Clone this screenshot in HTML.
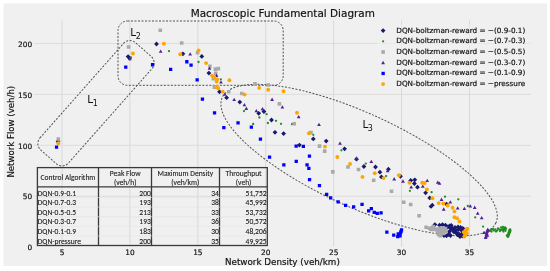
<!DOCTYPE html>
<html><head><meta charset="utf-8"><style>html,body{margin:0;padding:0;background:#fff;width:550px;height:271px;overflow:hidden}svg{display:block}</style></head>
<body><svg width="550" height="271" viewBox="0 0 550 271"><rect x="0" y="0" width="550" height="271" fill="#ffffff"/>
<rect x="3.5" y="3.5" width="543.5" height="262.5" fill="#f0f0f0"/>
<path d="M62.00 20.5V246.5M129.91 20.5V246.5M197.83 20.5V246.5M265.74 20.5V246.5M333.65 20.5V246.5M401.57 20.5V246.5M469.49 20.5V246.5" stroke="#d8d8d8" stroke-width="1" fill="none"/>
<path d="M34 196.25H531M34 145.30H531M34 94.35H531M34 43.40H531" stroke="#dcdcdc" stroke-width="1" fill="none"/>
<text x="32.2" y="250.40" text-anchor="end" font-family="DejaVu Sans, Liberation Sans, sans-serif" font-size="7.4" fill="#111" stroke="#111" stroke-width="0.18">0</text>
<text x="32.2" y="199.45" text-anchor="end" font-family="DejaVu Sans, Liberation Sans, sans-serif" font-size="7.4" fill="#111" stroke="#111" stroke-width="0.18">50</text>
<text x="32.2" y="148.50" text-anchor="end" font-family="DejaVu Sans, Liberation Sans, sans-serif" font-size="7.4" fill="#111" stroke="#111" stroke-width="0.18">100</text>
<text x="32.2" y="97.55" text-anchor="end" font-family="DejaVu Sans, Liberation Sans, sans-serif" font-size="7.4" fill="#111" stroke="#111" stroke-width="0.18">150</text>
<text x="32.2" y="46.60" text-anchor="end" font-family="DejaVu Sans, Liberation Sans, sans-serif" font-size="7.4" fill="#111" stroke="#111" stroke-width="0.18">200</text>
<text x="62.00" y="254.9" text-anchor="middle" font-family="DejaVu Sans, Liberation Sans, sans-serif" font-size="7.4" fill="#111" stroke="#111" stroke-width="0.18">5</text>
<text x="129.91" y="254.9" text-anchor="middle" font-family="DejaVu Sans, Liberation Sans, sans-serif" font-size="7.4" fill="#111" stroke="#111" stroke-width="0.18">10</text>
<text x="197.83" y="254.9" text-anchor="middle" font-family="DejaVu Sans, Liberation Sans, sans-serif" font-size="7.4" fill="#111" stroke="#111" stroke-width="0.18">15</text>
<text x="265.74" y="254.9" text-anchor="middle" font-family="DejaVu Sans, Liberation Sans, sans-serif" font-size="7.4" fill="#111" stroke="#111" stroke-width="0.18">20</text>
<text x="333.65" y="254.9" text-anchor="middle" font-family="DejaVu Sans, Liberation Sans, sans-serif" font-size="7.4" fill="#111" stroke="#111" stroke-width="0.18">25</text>
<text x="401.57" y="254.9" text-anchor="middle" font-family="DejaVu Sans, Liberation Sans, sans-serif" font-size="7.4" fill="#111" stroke="#111" stroke-width="0.18">30</text>
<text x="469.49" y="254.9" text-anchor="middle" font-family="DejaVu Sans, Liberation Sans, sans-serif" font-size="7.4" fill="#111" stroke="#111" stroke-width="0.18">35</text>
<text x="282.4" y="265.1" text-anchor="middle" font-family="DejaVu Sans, Liberation Sans, sans-serif" font-size="8.76" fill="#111" stroke="#111" stroke-width="0.18">Network Density (veh/km)</text>
<text transform="translate(14 131.7) rotate(-90)" text-anchor="middle" font-family="DejaVu Sans, Liberation Sans, sans-serif" font-size="8.6" fill="#111" stroke="#111" stroke-width="0.18">Network Flow (veh/h)</text>
<text x="282.8" y="16.8" text-anchor="middle" font-family="DejaVu Sans, Liberation Sans, sans-serif" font-size="10.45" fill="#111" stroke="#111" stroke-width="0.18">Macroscopic Fundamental Diagram</text>
<rect x="118" y="21" width="165.2" height="64.3" rx="9.5" ry="9.5" fill="none" stroke="#525252" stroke-width="1.0" stroke-dasharray="2 1.5"/>
<rect x="-71.6" y="-19" width="143.2" height="38" rx="8.5" ry="8.5" transform="translate(96.0 103.25) rotate(-48.5)" fill="none" stroke="#525252" stroke-width="1.0" stroke-dasharray="2 1.5"/>
<ellipse cx="0" cy="0" rx="150.5" ry="46.8" transform="translate(359.1 160.1) rotate(24.62)" fill="none" stroke="#525252" stroke-width="1.0" stroke-dasharray="2 1.5"/>
<text x="87.3" y="102.6" font-family="DejaVu Sans, Liberation Sans, sans-serif" fill="#111" font-size="10.5">L<tspan font-size="8" dx="-0.5" dy="3.0">1</tspan></text>
<text x="130.3" y="35.9" font-family="DejaVu Sans, Liberation Sans, sans-serif" fill="#111" font-size="10.5">L<tspan font-size="8" dx="-0.5" dy="3.0">2</tspan></text>
<text x="362.5" y="128.1" font-family="DejaVu Sans, Liberation Sans, sans-serif" fill="#111" font-size="10.5">L<tspan font-size="8" dx="-0.5" dy="3.0">3</tspan></text>
<g stroke="#3a3a3a" stroke-width="1.3" fill="none"><rect x="37.4" y="167.6" width="229.9" height="77.9"/><path d="M37.4 186.8H267.3M98.5 167.6V245.5M151.5 167.6V245.5M219.5 167.6V245.5"/></g>
<path d="M38 197.5H267M38 207.1H267M38 216.7H267M38 226.3H267M38 235.9H267" stroke="#e2e2e2" stroke-width="0.6" fill="none"/>
<text x="68" y="180.4" text-anchor="middle" font-family="Carlito, Liberation Sans, sans-serif" fill="#1a1a1a" stroke="#1a1a1a" stroke-width="0.1" font-size="7.55" textLength="54.82" lengthAdjust="spacingAndGlyphs">Control Algorithm</text>
<text x="125.2" y="175.8" text-anchor="middle" font-family="Carlito, Liberation Sans, sans-serif" fill="#1a1a1a" stroke="#1a1a1a" stroke-width="0.1" font-size="7.55" textLength="30.80" lengthAdjust="spacingAndGlyphs">Peak Flow</text>
<text x="125.2" y="185.4" text-anchor="middle" font-family="Carlito, Liberation Sans, sans-serif" fill="#1a1a1a" stroke="#1a1a1a" stroke-width="0.1" font-size="7.55" textLength="22.51" lengthAdjust="spacingAndGlyphs">(veh/h)</text>
<text x="185.4" y="175.8" text-anchor="middle" font-family="Carlito, Liberation Sans, sans-serif" fill="#1a1a1a" stroke="#1a1a1a" stroke-width="0.1" font-size="7.55" textLength="55.72" lengthAdjust="spacingAndGlyphs">Maximum Density</text>
<text x="185.3" y="185.4" text-anchor="middle" font-family="Carlito, Liberation Sans, sans-serif" fill="#1a1a1a" stroke="#1a1a1a" stroke-width="0.1" font-size="7.55" textLength="28.01" lengthAdjust="spacingAndGlyphs">(veh/km)</text>
<text x="243.6" y="175.8" text-anchor="middle" font-family="Carlito, Liberation Sans, sans-serif" fill="#1a1a1a" stroke="#1a1a1a" stroke-width="0.1" font-size="7.55" textLength="36.07" lengthAdjust="spacingAndGlyphs">Throughput</text>
<text x="243.6" y="185.4" text-anchor="middle" font-family="Carlito, Liberation Sans, sans-serif" fill="#1a1a1a" stroke="#1a1a1a" stroke-width="0.1" font-size="7.55" textLength="15.63" lengthAdjust="spacingAndGlyphs">(veh)</text>
<text x="37.7" y="195.6" font-family="Carlito, Liberation Sans, sans-serif" fill="#1a1a1a" stroke="#1a1a1a" stroke-width="0.1" font-size="7.55" textLength="38.32" lengthAdjust="spacingAndGlyphs">DQN-0.9-0.1</text>
<text x="150.8" y="195.6" text-anchor="end" font-family="Carlito, Liberation Sans, sans-serif" fill="#1a1a1a" stroke="#1a1a1a" stroke-width="0.1" font-size="7.55" textLength="11.48" lengthAdjust="spacingAndGlyphs">200</text>
<text x="218.8" y="195.6" text-anchor="end" font-family="Carlito, Liberation Sans, sans-serif" fill="#1a1a1a" stroke="#1a1a1a" stroke-width="0.1" font-size="7.55" textLength="7.65" lengthAdjust="spacingAndGlyphs">34</text>
<text x="266.6" y="195.6" text-anchor="end" font-family="Carlito, Liberation Sans, sans-serif" fill="#1a1a1a" stroke="#1a1a1a" stroke-width="0.1" font-size="7.55" textLength="21.01" lengthAdjust="spacingAndGlyphs">51,752</text>
<text x="37.7" y="205.2" font-family="Carlito, Liberation Sans, sans-serif" fill="#1a1a1a" stroke="#1a1a1a" stroke-width="0.1" font-size="7.55" textLength="38.32" lengthAdjust="spacingAndGlyphs">DQN-0.7-0.3</text>
<text x="150.8" y="205.2" text-anchor="end" font-family="Carlito, Liberation Sans, sans-serif" fill="#1a1a1a" stroke="#1a1a1a" stroke-width="0.1" font-size="7.55" textLength="11.48" lengthAdjust="spacingAndGlyphs">193</text>
<text x="218.8" y="205.2" text-anchor="end" font-family="Carlito, Liberation Sans, sans-serif" fill="#1a1a1a" stroke="#1a1a1a" stroke-width="0.1" font-size="7.55" textLength="7.65" lengthAdjust="spacingAndGlyphs">38</text>
<text x="266.6" y="205.2" text-anchor="end" font-family="Carlito, Liberation Sans, sans-serif" fill="#1a1a1a" stroke="#1a1a1a" stroke-width="0.1" font-size="7.55" textLength="21.01" lengthAdjust="spacingAndGlyphs">45,992</text>
<text x="37.7" y="214.8" font-family="Carlito, Liberation Sans, sans-serif" fill="#1a1a1a" stroke="#1a1a1a" stroke-width="0.1" font-size="7.55" textLength="38.32" lengthAdjust="spacingAndGlyphs">DQN-0.5-0.5</text>
<text x="150.8" y="214.8" text-anchor="end" font-family="Carlito, Liberation Sans, sans-serif" fill="#1a1a1a" stroke="#1a1a1a" stroke-width="0.1" font-size="7.55" textLength="11.48" lengthAdjust="spacingAndGlyphs">213</text>
<text x="218.8" y="214.8" text-anchor="end" font-family="Carlito, Liberation Sans, sans-serif" fill="#1a1a1a" stroke="#1a1a1a" stroke-width="0.1" font-size="7.55" textLength="7.65" lengthAdjust="spacingAndGlyphs">33</text>
<text x="266.6" y="214.8" text-anchor="end" font-family="Carlito, Liberation Sans, sans-serif" fill="#1a1a1a" stroke="#1a1a1a" stroke-width="0.1" font-size="7.55" textLength="21.01" lengthAdjust="spacingAndGlyphs">53,732</text>
<text x="37.7" y="224.4" font-family="Carlito, Liberation Sans, sans-serif" fill="#1a1a1a" stroke="#1a1a1a" stroke-width="0.1" font-size="7.55" textLength="38.32" lengthAdjust="spacingAndGlyphs">DQN-0.3-0.7</text>
<text x="150.8" y="224.4" text-anchor="end" font-family="Carlito, Liberation Sans, sans-serif" fill="#1a1a1a" stroke="#1a1a1a" stroke-width="0.1" font-size="7.55" textLength="11.48" lengthAdjust="spacingAndGlyphs">193</text>
<text x="218.8" y="224.4" text-anchor="end" font-family="Carlito, Liberation Sans, sans-serif" fill="#1a1a1a" stroke="#1a1a1a" stroke-width="0.1" font-size="7.55" textLength="7.65" lengthAdjust="spacingAndGlyphs">36</text>
<text x="266.6" y="224.4" text-anchor="end" font-family="Carlito, Liberation Sans, sans-serif" fill="#1a1a1a" stroke="#1a1a1a" stroke-width="0.1" font-size="7.55" textLength="21.01" lengthAdjust="spacingAndGlyphs">50,572</text>
<text x="37.7" y="234.1" font-family="Carlito, Liberation Sans, sans-serif" fill="#1a1a1a" stroke="#1a1a1a" stroke-width="0.1" font-size="7.55" textLength="38.32" lengthAdjust="spacingAndGlyphs">DQN-0.1-0.9</text>
<text x="150.8" y="234.1" text-anchor="end" font-family="Carlito, Liberation Sans, sans-serif" fill="#1a1a1a" stroke="#1a1a1a" stroke-width="0.1" font-size="7.55" textLength="11.48" lengthAdjust="spacingAndGlyphs">183</text>
<text x="218.8" y="234.1" text-anchor="end" font-family="Carlito, Liberation Sans, sans-serif" fill="#1a1a1a" stroke="#1a1a1a" stroke-width="0.1" font-size="7.55" textLength="7.65" lengthAdjust="spacingAndGlyphs">30</text>
<text x="266.6" y="234.1" text-anchor="end" font-family="Carlito, Liberation Sans, sans-serif" fill="#1a1a1a" stroke="#1a1a1a" stroke-width="0.1" font-size="7.55" textLength="21.01" lengthAdjust="spacingAndGlyphs">48,206</text>
<text x="37.7" y="243.8" font-family="Carlito, Liberation Sans, sans-serif" fill="#1a1a1a" stroke="#1a1a1a" stroke-width="0.1" font-size="7.55" textLength="43.31" lengthAdjust="spacingAndGlyphs">DQN-pressure</text>
<text x="150.8" y="243.8" text-anchor="end" font-family="Carlito, Liberation Sans, sans-serif" fill="#1a1a1a" stroke="#1a1a1a" stroke-width="0.1" font-size="7.55" textLength="11.48" lengthAdjust="spacingAndGlyphs">200</text>
<text x="218.8" y="243.8" text-anchor="end" font-family="Carlito, Liberation Sans, sans-serif" fill="#1a1a1a" stroke="#1a1a1a" stroke-width="0.1" font-size="7.55" textLength="7.65" lengthAdjust="spacingAndGlyphs">35</text>
<text x="266.6" y="243.8" text-anchor="end" font-family="Carlito, Liberation Sans, sans-serif" fill="#1a1a1a" stroke="#1a1a1a" stroke-width="0.1" font-size="7.55" textLength="21.01" lengthAdjust="spacingAndGlyphs">49,925</text>
<path fill="#191970" d="M58.0 139.0L60.4 141.4L58.0 143.8L55.6 141.4ZM128.1 54.2L130.5 56.6L128.1 59.0L125.7 56.6ZM129.4 55.7L131.8 58.1L129.4 60.5L127.0 58.1ZM156.5 41.6L158.9 44.0L156.5 46.4L154.1 44.0ZM182.9 51.4L185.3 53.8L182.9 56.2L180.5 53.8ZM201.8 54.0L204.2 56.4L201.8 58.8L199.4 56.4ZM208.9 70.7L211.3 73.1L208.9 75.5L206.5 73.1ZM219.5 89.4L221.9 91.8L219.5 94.2L217.1 91.8ZM226.6 95.3L229.0 97.7L226.6 100.1L224.2 97.7ZM239.8 99.7L242.2 102.1L239.8 104.5L237.4 102.1ZM258.7 110.9L261.1 113.3L258.7 115.7L256.3 113.3ZM263.9 109.1L266.3 111.5L263.9 113.9L261.5 111.5ZM271.5 117.6L273.9 120.0L271.5 122.4L269.1 120.0ZM275.0 129.9L277.4 132.3L275.0 134.7L272.6 132.3ZM283.6 131.2L286.0 133.6L283.6 136.0L281.2 133.6ZM299.4 142.7L301.8 145.1L299.4 147.5L297.0 145.1ZM313.3 136.5L315.7 138.9L313.3 141.3L310.9 138.9ZM326.2 138.7L328.6 141.1L326.2 143.5L323.8 141.1ZM344.6 146.4L347.0 148.8L344.6 151.2L342.2 148.8ZM356.5 156.8L358.9 159.2L356.5 161.6L354.1 159.2ZM363.9 164.1L366.3 166.5L363.9 168.9L361.5 166.5ZM375.5 164.6L377.9 167.0L375.5 169.4L373.1 167.0ZM379.9 169.8L382.3 172.2L379.9 174.6L377.5 172.2ZM381.4 174.5L383.8 176.9L381.4 179.3L379.0 176.9ZM388.4 166.8L390.8 169.2L388.4 171.6L386.0 169.2ZM400.5 173.9L402.9 176.3L400.5 178.7L398.1 176.3ZM410.7 178.1L413.1 180.5L410.7 182.9L408.3 180.5ZM414.8 177.4L417.2 179.8L414.8 182.2L412.4 179.8ZM414.4 181.1L416.8 183.5L414.4 185.9L412.0 183.5ZM417.5 184.8L419.9 187.2L417.5 189.6L415.1 187.2ZM425.6 190.4L428.0 192.8L425.6 195.2L423.2 192.8ZM429.7 195.5L432.1 197.9L429.7 200.3L427.3 197.9ZM446.5 201.7L448.9 204.1L446.5 206.5L444.1 204.1ZM431.0 204.0L433.4 206.4L431.0 208.8L428.6 206.4ZM432.3 202.8L434.7 205.2L432.3 207.6L429.9 205.2ZM434.9 222.2L437.3 224.6L434.9 227.0L432.5 224.6ZM439.5 222.8L441.9 225.2L439.5 227.6L437.1 225.2ZM442.5 222.2L444.9 224.6L442.5 227.0L440.1 224.6ZM445.5 222.8L447.9 225.2L445.5 227.6L443.1 225.2ZM444.0 233.1L446.4 235.5L444.0 237.9L441.6 235.5ZM446.5 233.4L448.9 235.8L446.5 238.2L444.1 235.8ZM449.5 223.6L451.9 226.0L449.5 228.4L447.1 226.0ZM451.2 222.9L453.6 225.3L451.2 227.7L448.8 225.3ZM450.8 226.1L453.2 228.5L450.8 230.9L448.4 228.5ZM449.5 229.1L451.9 231.5L449.5 233.9L447.1 231.5ZM448.5 232.1L450.9 234.5L448.5 236.9L446.1 234.5ZM450.5 233.1L452.9 235.5L450.5 237.9L448.1 235.5ZM453.5 228.1L455.9 230.5L453.5 232.9L451.1 230.5ZM456.0 228.1L458.4 230.5L456.0 232.9L453.6 230.5ZM458.5 227.1L460.9 229.5L458.5 231.9L456.1 229.5ZM461.0 227.1L463.4 229.5L461.0 231.9L458.6 229.5ZM462.5 229.1L464.9 231.5L462.5 233.9L460.1 231.5ZM459.0 231.6L461.4 234.0L459.0 236.4L456.6 234.0ZM461.5 232.1L463.9 234.5L461.5 236.9L459.1 234.5ZM460.0 234.1L462.4 236.5L460.0 238.9L457.6 236.5ZM456.0 230.1L458.4 232.5L456.0 234.9L453.6 232.5ZM454.0 229.6L456.4 232.0L454.0 234.4L451.6 232.0ZM455.0 225.1L457.4 227.5L455.0 229.9L452.6 227.5ZM458.0 224.6L460.4 227.0L458.0 229.4L455.6 227.0ZM460.5 225.1L462.9 227.5L460.5 229.9L458.1 227.5ZM462.8 225.9L465.2 228.3L462.8 230.7L460.4 228.3ZM457.5 232.4L459.9 234.8L457.5 237.2L455.1 234.8ZM462.3 233.6L464.7 236.0L462.3 238.4L459.9 236.0ZM447.5 224.6L449.9 227.0L447.5 229.4L445.1 227.0ZM452.2 225.6L454.6 228.0L452.2 230.4L449.8 228.0Z"/>
<g fill="#228b22"><circle cx="59.1" cy="141.2" r="1.15"/><circle cx="131.0" cy="57.5" r="1.15"/><circle cx="169.0" cy="51.1" r="1.15"/><circle cx="198.5" cy="62.0" r="1.15"/><circle cx="220.8" cy="79.3" r="1.15"/><circle cx="244.0" cy="111.1" r="1.15"/><circle cx="259.4" cy="117.5" r="1.15"/><circle cx="266.6" cy="114.2" r="1.15"/><circle cx="276.0" cy="120.8" r="1.15"/><circle cx="267.9" cy="123.0" r="1.15"/><circle cx="281.0" cy="123.8" r="1.15"/><circle cx="253.2" cy="124.0" r="1.15"/><circle cx="292.0" cy="124.2" r="1.15"/><circle cx="313.3" cy="134.8" r="1.15"/><circle cx="341.4" cy="150.3" r="1.15"/><circle cx="365.8" cy="163.6" r="1.15"/><circle cx="386.1" cy="176.1" r="1.15"/><circle cx="409.9" cy="190.8" r="1.15"/><circle cx="431.6" cy="192.2" r="1.15"/><circle cx="445.0" cy="196.7" r="1.15"/><circle cx="458.3" cy="199.3" r="1.15"/><circle cx="467.8" cy="206.0" r="1.15"/><circle cx="475.2" cy="217.3" r="1.15"/><circle cx="483.1" cy="226.6" r="1.15"/><circle cx="490.5" cy="230.5" r="1.15"/><circle cx="493.2" cy="228.8" r="1.15"/><circle cx="495.4" cy="229.4" r="1.15"/><circle cx="497.1" cy="230.5" r="1.15"/><circle cx="499.3" cy="229.4" r="1.15"/><circle cx="501.0" cy="230.0" r="1.15"/><circle cx="502.6" cy="228.8" r="1.15"/><circle cx="504.3" cy="228.3" r="1.15"/><circle cx="503.2" cy="230.5" r="1.15"/><circle cx="505.4" cy="229.4" r="1.15"/><circle cx="509.5" cy="230.0" r="1.15"/><circle cx="509.0" cy="231.5" r="1.15"/><circle cx="508.5" cy="233.0" r="1.15"/><circle cx="508.0" cy="234.5" r="1.15"/><circle cx="507.5" cy="236.0" r="1.15"/><circle cx="491.5" cy="231.5" r="1.15"/><circle cx="494.0" cy="230.5" r="1.15"/><circle cx="496.0" cy="231.5" r="1.15"/><circle cx="498.0" cy="228.5" r="1.15"/><circle cx="500.0" cy="231.0" r="1.15"/><circle cx="502.0" cy="229.8" r="1.15"/><circle cx="504.0" cy="229.5" r="1.15"/><circle cx="506.0" cy="228.5" r="1.15"/><circle cx="492.0" cy="229.5" r="1.15"/><circle cx="505.5" cy="230.8" r="1.15"/><circle cx="503.5" cy="231.5" r="1.15"/><circle cx="510.0" cy="231.0" r="1.15"/><circle cx="509.3" cy="233.0" r="1.15"/><circle cx="508.8" cy="234.8" r="1.15"/><circle cx="507.8" cy="236.8" r="1.15"/><circle cx="510.2" cy="229.3" r="1.15"/><circle cx="510.6" cy="230.8" r="1.15"/><circle cx="509.9" cy="232.6" r="1.15"/><circle cx="509.1" cy="234.6" r="1.15"/><circle cx="508.4" cy="236.4" r="1.15"/><circle cx="506.9" cy="235.5" r="1.15"/><circle cx="501.0" cy="227.5" r="1.15"/><circle cx="503.0" cy="227.0" r="1.15"/><circle cx="505.0" cy="227.5" r="1.15"/></g>
<path fill="#a9a9a9" d="M56.5 137.2h3.6v3.6h-3.6ZM126.8 45.2h3.6v3.6h-3.6ZM158.5 28.4h3.6v3.6h-3.6ZM179.9 41.2h3.6v3.6h-3.6ZM195.8 50.9h3.6v3.6h-3.6ZM208.1 64.6h3.6v3.6h-3.6ZM213.6 67.3h3.6v3.6h-3.6ZM216.6 66.8h3.6v3.6h-3.6ZM213.9 71.6h3.6v3.6h-3.6ZM211.5 77.0h3.6v3.6h-3.6ZM212.6 85.3h3.6v3.6h-3.6ZM226.9 90.0h3.6v3.6h-3.6ZM240.0 91.7h3.6v3.6h-3.6ZM253.2 82.1h3.6v3.6h-3.6ZM266.4 83.2h3.6v3.6h-3.6ZM277.6 102.1h3.6v3.6h-3.6ZM292.4 122.0h3.6v3.6h-3.6ZM309.2 130.8h3.6v3.6h-3.6ZM317.7 144.3h3.6v3.6h-3.6ZM322.9 149.3h3.6v3.6h-3.6ZM331.0 170.1h3.6v3.6h-3.6ZM346.2 165.2h3.6v3.6h-3.6ZM356.7 167.7h3.6v3.6h-3.6ZM371.9 178.5h3.6v3.6h-3.6ZM389.7 189.4h3.6v3.6h-3.6ZM401.9 200.5h3.6v3.6h-3.6ZM408.9 202.7h3.6v3.6h-3.6ZM417.3 213.9h3.6v3.6h-3.6ZM424.3 225.4h3.6v3.6h-3.6ZM427.6 226.5h3.6v3.6h-3.6ZM430.2 225.9h3.6v3.6h-3.6ZM431.5 224.8h3.6v3.6h-3.6ZM429.2 227.7h3.6v3.6h-3.6ZM432.7 227.7h3.6v3.6h-3.6ZM435.2 227.2h3.6v3.6h-3.6ZM438.2 226.5h3.6v3.6h-3.6ZM441.2 226.5h3.6v3.6h-3.6ZM443.7 226.7h3.6v3.6h-3.6ZM435.7 229.7h3.6v3.6h-3.6ZM438.7 229.7h3.6v3.6h-3.6ZM441.7 229.7h3.6v3.6h-3.6ZM444.2 229.7h3.6v3.6h-3.6ZM439.2 232.2h3.6v3.6h-3.6ZM441.7 231.7h3.6v3.6h-3.6ZM436.6 232.6h3.6v3.6h-3.6ZM438.4 233.9h3.6v3.6h-3.6Z"/>
<path fill="#53209b" d="M130.0 56.9L131.8 60.3L128.2 60.3ZM160.7 49.4L162.5 52.8L158.8 52.8ZM190.2 52.2L192.0 55.6L188.3 55.6ZM209.5 66.4L211.3 69.7L207.7 69.7ZM216.5 73.6L218.3 76.9L214.7 76.9ZM221.0 80.2L222.8 83.6L219.2 83.6ZM224.8 92.4L226.7 95.7L223.0 95.7ZM234.2 97.7L236.0 101.0L232.3 101.0ZM244.4 103.0L246.2 106.3L242.6 106.3ZM246.3 106.6L248.2 109.9L244.5 109.9ZM256.3 109.0L258.2 112.3L254.5 112.3ZM262.5 106.9L264.4 110.2L260.6 110.2ZM272.1 97.6L274.0 100.9L270.2 100.9ZM282.4 105.2L284.2 108.6L280.5 108.6ZM298.7 114.9L300.6 118.2L296.8 118.2ZM319.0 122.8L320.9 126.1L317.1 126.1ZM340.0 141.5L341.9 144.8L338.1 144.8ZM356.5 156.2L358.4 159.6L354.6 159.6ZM371.3 159.7L373.2 163.0L369.4 163.0ZM387.6 168.8L389.5 172.2L385.8 172.2ZM394.2 177.1L396.1 180.4L392.3 180.4ZM403.0 179.3L404.9 182.7L401.1 182.7ZM411.2 185.2L413.1 188.5L409.3 188.5ZM422.8 184.5L424.7 187.8L420.9 187.8ZM427.2 178.7L429.1 182.0L425.3 182.0ZM437.8 180.5L439.7 183.8L435.9 183.8ZM439.5 181.5L441.4 184.8L437.6 184.8ZM441.5 197.6L443.4 200.9L439.6 200.9ZM450.3 200.2L452.2 203.6L448.4 203.6ZM443.7 207.3L445.6 210.7L441.8 210.7ZM457.7 206.2L459.6 209.5L455.8 209.5ZM464.4 206.7L466.2 210.0L462.5 210.0ZM470.3 204.2L472.2 207.5L468.4 207.5ZM474.7 205.6L476.6 208.9L472.8 208.9ZM477.7 211.5L479.6 214.8L475.8 214.8ZM481.7 216.0L483.6 219.3L479.8 219.3ZM487.6 227.7L489.5 231.0L485.8 231.0ZM487.2 229.3L489.1 232.7L485.3 232.7ZM486.8 231.1L488.7 234.4L484.9 234.4ZM486.4 232.8L488.2 236.1L484.5 236.1ZM486.0 234.5L487.9 237.8L484.1 237.8ZM485.6 235.8L487.5 239.1L483.8 239.1ZM484.0 230.7L485.9 234.0L482.1 234.0ZM488.6 228.5L490.5 231.8L486.8 231.8ZM487.4 233.3L489.2 236.7L485.5 236.7Z"/>
<path fill="#0000ff" d="M54.9 145.4h3.3v3.3h-3.3ZM124.1 65.4h3.3v3.3h-3.3ZM150.9 63.1h3.3v3.3h-3.3ZM169.0 67.8h3.3v3.3h-3.3ZM185.2 60.1h3.3v3.3h-3.3ZM189.4 63.4h3.3v3.3h-3.3ZM195.5 78.3h3.3v3.3h-3.3ZM200.8 97.5h3.3v3.3h-3.3ZM212.9 111.3h3.3v3.3h-3.3ZM222.2 126.0h3.3v3.3h-3.3ZM236.4 121.2h3.3v3.3h-3.3ZM249.7 125.4h3.3v3.3h-3.3ZM258.8 137.5h3.3v3.3h-3.3ZM267.9 155.5h3.3v3.3h-3.3ZM282.2 163.2h3.3v3.3h-3.3ZM294.5 144.4h3.3v3.3h-3.3ZM301.7 144.7h3.3v3.3h-3.3ZM294.6 159.8h3.3v3.3h-3.3ZM307.8 154.5h3.3v3.3h-3.3ZM305.4 163.2h3.3v3.3h-3.3ZM307.2 166.8h3.3v3.3h-3.3ZM307.9 177.9h3.3v3.3h-3.3ZM317.8 183.9h3.3v3.3h-3.3ZM325.0 192.8h3.3v3.3h-3.3ZM329.0 196.2h3.3v3.3h-3.3ZM336.5 200.3h3.3v3.3h-3.3ZM344.0 203.8h3.3v3.3h-3.3ZM352.0 205.2h3.3v3.3h-3.3ZM360.4 202.8h3.3v3.3h-3.3ZM367.0 209.2h3.3v3.3h-3.3ZM369.7 206.9h3.3v3.3h-3.3ZM372.6 210.7h3.3v3.3h-3.3ZM375.6 211.8h3.3v3.3h-3.3ZM379.4 211.2h3.3v3.3h-3.3ZM399.9 228.3h3.3v3.3h-3.3ZM399.4 229.8h3.3v3.3h-3.3ZM398.9 231.3h3.3v3.3h-3.3ZM397.9 232.8h3.3v3.3h-3.3ZM396.9 234.3h3.3v3.3h-3.3ZM396.1 234.9h3.3v3.3h-3.3ZM396.6 232.3h3.3v3.3h-3.3ZM398.4 234.3h3.3v3.3h-3.3ZM385.2 230.4h3.3v3.3h-3.3ZM392.1 233.4h3.3v3.3h-3.3Z"/>
<g fill="#ffa500"><circle cx="58.3" cy="143.2" r="1.95"/><circle cx="132.9" cy="53.5" r="1.95"/><circle cx="163.9" cy="43.7" r="1.95"/><circle cx="180.3" cy="54.3" r="1.95"/><circle cx="198.6" cy="50.5" r="1.95"/><circle cx="206.1" cy="63.1" r="1.95"/><circle cx="212.1" cy="75.6" r="1.95"/><circle cx="214.4" cy="77.2" r="1.95"/><circle cx="217.1" cy="79.4" r="1.95"/><circle cx="216.6" cy="81.6" r="1.95"/><circle cx="229.4" cy="80.3" r="1.95"/><circle cx="216.6" cy="86.6" r="1.95"/><circle cx="218.2" cy="88.2" r="1.95"/><circle cx="222.7" cy="91.7" r="1.95"/><circle cx="244.6" cy="94.6" r="1.95"/><circle cx="259.2" cy="87.9" r="1.95"/><circle cx="268.2" cy="89.7" r="1.95"/><circle cx="283.5" cy="91.3" r="1.95"/><circle cx="297.0" cy="112.7" r="1.95"/><circle cx="308.9" cy="133.3" r="1.95"/><circle cx="325.0" cy="146.6" r="1.95"/><circle cx="337.3" cy="157.0" r="1.95"/><circle cx="350.0" cy="164.0" r="1.95"/><circle cx="362.5" cy="176.9" r="1.95"/><circle cx="374.7" cy="173.3" r="1.95"/><circle cx="383.6" cy="178.1" r="1.95"/><circle cx="398.9" cy="175.3" r="1.95"/><circle cx="409.5" cy="182.7" r="1.95"/><circle cx="422.2" cy="182.7" r="1.95"/><circle cx="424.7" cy="183.0" r="1.95"/><circle cx="426.9" cy="189.4" r="1.95"/><circle cx="432.4" cy="198.2" r="1.95"/><circle cx="438.7" cy="203.1" r="1.95"/><circle cx="443.3" cy="203.5" r="1.95"/><circle cx="447.7" cy="205.5" r="1.95"/><circle cx="452.6" cy="207.7" r="1.95"/><circle cx="454.5" cy="211.4" r="1.95"/><circle cx="454.4" cy="217.2" r="1.95"/><circle cx="457.1" cy="218.2" r="1.95"/><circle cx="459.4" cy="221.5" r="1.95"/><circle cx="467.3" cy="229.1" r="1.95"/><circle cx="463.7" cy="232.1" r="1.95"/><circle cx="465.9" cy="230.5" r="1.95"/><circle cx="467.0" cy="228.8" r="1.95"/><circle cx="465.4" cy="234.9" r="1.95"/><circle cx="464.3" cy="236.6" r="1.95"/><circle cx="466.8" cy="233.3" r="1.95"/></g>
<rect x="376.5" y="24.3" width="153.5" height="64" rx="2" fill="#f0f0f0" fill-opacity="0.6"/>
<path fill="#191970" d="M383.1 28.2L385.5 30.6L383.1 33.0L380.7 30.6Z"/>
<text x="396.3" y="32.6" font-family="DejaVu Sans, Liberation Sans, sans-serif" font-size="7.25" fill="#111" stroke="#111" stroke-width="0.18">DQN-boltzman-reward = −(0.9-0.1)</text>
<circle cx="383.1" cy="41.3" r="1.15" fill="#228b22"/>
<text x="396.3" y="43.3" font-family="DejaVu Sans, Liberation Sans, sans-serif" font-size="7.25" fill="#111" stroke="#111" stroke-width="0.18">DQN-boltzman-reward = −(0.7-0.3)</text>
<path fill="#a9a9a9" d="M381.3 50.2h3.6v3.6h-3.6Z"/>
<text x="396.3" y="54.0" font-family="DejaVu Sans, Liberation Sans, sans-serif" font-size="7.25" fill="#111" stroke="#111" stroke-width="0.18">DQN-boltzman-reward = −(0.5-0.5)</text>
<path fill="#53209b" d="M383.1 60.8L385.0 64.2L381.2 64.2Z"/>
<text x="396.3" y="64.7" font-family="DejaVu Sans, Liberation Sans, sans-serif" font-size="7.25" fill="#111" stroke="#111" stroke-width="0.18">DQN-boltzman-reward = −(0.3-0.7)</text>
<path fill="#0000ff" d="M381.5 71.8h3.3v3.3h-3.3Z"/>
<text x="396.3" y="75.4" font-family="DejaVu Sans, Liberation Sans, sans-serif" font-size="7.25" fill="#111" stroke="#111" stroke-width="0.18">DQN-boltzman-reward = −(0.1-0.9)</text>
<circle cx="383.1" cy="84.1" r="1.95" fill="#ffa500"/>
<text x="396.3" y="86.1" font-family="DejaVu Sans, Liberation Sans, sans-serif" font-size="7.25" fill="#111" stroke="#111" stroke-width="0.18">DQN-boltzman-reward = −pressure</text></svg></body></html>
